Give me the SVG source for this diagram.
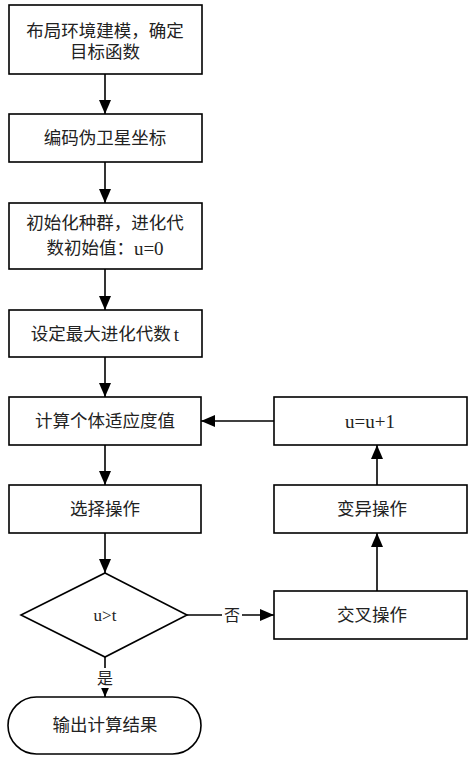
<svg xmlns="http://www.w3.org/2000/svg" width="474" height="762" viewBox="0 0 474 762">
<style>
.n{fill:#fff;stroke:#000;stroke-width:1.6}
.t{font-family:"Liberation Serif","Noto Sans CJK SC",serif;font-size:17.5px;fill:#222;text-anchor:middle;dominant-baseline:central}
.c{stroke:#000;stroke-width:1.6;fill:none;marker-end:url(#a)}
.l{font-family:"Liberation Serif","Noto Sans CJK SC",serif;font-size:16px;fill:#222;text-anchor:middle;dominant-baseline:central}
.lat{font-size:19px}
</style>
<defs>
<marker id="a" markerWidth="14" markerHeight="12" viewBox="0 0 14 12" refX="14" refY="6" orient="auto" markerUnits="userSpaceOnUse">
<path d="M0,0 L14,6 L0,12 Z" fill="#000"/>
</marker>
</defs>
<rect width="474" height="762" fill="#fff"/>
<g id="connectors">
<line class="c" x1="105" y1="74" x2="105" y2="114"/>
<line class="c" x1="105" y1="162" x2="105" y2="203"/>
<line class="c" x1="105" y1="269" x2="105" y2="310"/>
<line class="c" x1="105" y1="357" x2="105" y2="397"/>
<line class="c" x1="105" y1="445" x2="105" y2="485"/>
<line class="c" x1="105" y1="533" x2="105" y2="573"/>
<line class="c" x1="274" y1="421" x2="201" y2="421"/>
<line class="c" x1="377" y1="485" x2="377" y2="445"/>
<line class="c" x1="377" y1="591" x2="377" y2="533"/>
<line class="c" x1="187" y1="615" x2="274" y2="615"/>
<line class="c" x1="105" y1="657" x2="105" y2="697"/>
<rect x="222" y="605" width="20" height="20" fill="#fff"/>
<text class="l" x="232" y="615">否</text>
<rect x="95" y="668" width="20" height="20" fill="#fff"/>
<text class="l" x="105" y="678">是</text>
</g>
<g id="n1"><rect class="n" x="9" y="5" width="193" height="69"/><text class="t" x="105" y="31">布局环境建模，确定</text><text class="t" x="105" y="52">目标函数</text></g>
<g id="n2"><rect class="n" x="9" y="114" width="193" height="48"/><text class="t" x="105" y="138">编码伪卫星坐标</text></g>
<g id="n3"><rect class="n" x="9" y="203" width="193" height="66"/><text class="t" x="105" y="223">初始化种群，进化代</text><text class="t" x="105" y="248">数初始值：<tspan class="lat">u=0</tspan></text></g>
<g id="n4"><rect class="n" x="9" y="310" width="193" height="47"/><text class="t" x="105" y="334">设定最大进化代数<tspan class="lat" dx="3">t</tspan></text></g>
<g id="n5"><rect class="n" x="9" y="397" width="192" height="48"/><text class="t" x="105" y="421">计算个体适应度值</text></g>
<g id="n6"><rect class="n" x="9" y="485" width="192" height="48"/><text class="t" x="105" y="509">选择操作</text></g>
<g id="n7"><polygon class="n" points="105,573 187,615 105,657 21,615"/><text class="t" x="105" y="615" style="font-size:17px">u&gt;t</text></g>
<g id="n8"><rect class="n" x="8" y="697" width="193" height="57" rx="28.5" ry="28.5"/><text class="t" x="105" y="725">输出计算结果</text></g>
<g id="n9"><rect class="n" x="274" y="591" width="193" height="48"/><text class="t" x="372" y="615">交叉操作</text></g>
<g id="n10"><rect class="n" x="274" y="485" width="193" height="48"/><text class="t" x="372" y="509">变异操作</text></g>
<g id="n11"><rect class="n" x="274" y="397" width="193" height="48"/><text class="t lat" x="370" y="421">u=u+1</text></g>
</svg>
